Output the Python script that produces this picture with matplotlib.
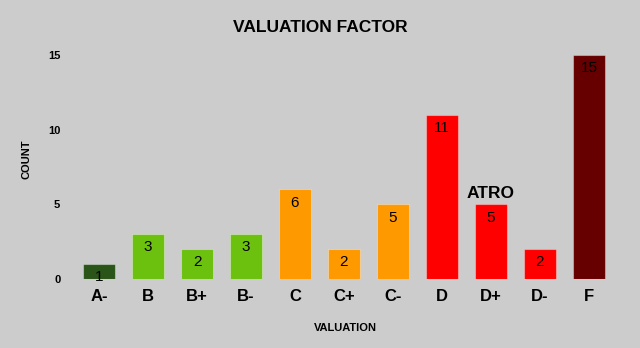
import matplotlib
matplotlib.use("Agg")
import matplotlib.pyplot as plt

# valuation grades and how many stocks fall in each
grades = ["A-", "B", "B+", "B-", "C", "C+", "C-", "D", "D+", "D-", "F"]
counts = [1, 3, 2, 3, 6, 2, 5, 11, 5, 2, 15]
colors = ["#2a5418", "#6cc00e", "#6cc00e", "#6cc00e", "#ff9900", "#ff9900",
          "#ff9900", "#ff0000", "#ff0000", "#ff0000", "#660000"]
yticks = [0, 5, 10, 15]
marked = "D+"
marked_label = "ATRO"

plt.rcParams["font.family"] = ["Liberation Sans", "DejaVu Sans"]

bg = "#cccccc"
fig = plt.figure(figsize=(6.4, 3.48), dpi=100, facecolor=bg)
ax = fig.add_axes([70 / 640, 69 / 348, 550 / 640, 239 / 348], facecolor=bg)

x = range(len(grades))
bars = ax.bar(x, counts, width=0.65, color=colors,
              edgecolor=(1, 1, 1, 0.35), linewidth=0.8)

# value labels just inside the top of each bar
for xi, v in zip(x, counts):
    ax.annotate(str(v), (xi, v), xytext=(0, -9.5), textcoords="offset points",
                ha="center", va="center", fontsize=11, color="black")

# ticker callout above its grade
mi = grades.index(marked)
ax.annotate(marked_label, (mi, counts[mi]), xytext=(0, 7.5), textcoords="offset points",
            ha="center", va="center", fontsize=12.5, fontweight="bold", color="black")

ax.set_xlim(-0.592, 10.633)
ax.set_ylim(0, 16)
ax.set_xticks(list(x))
ax.set_xticklabels(grades, fontsize=12, fontweight="bold")
ax.set_yticks(yticks)
ax.set_yticklabels([str(t) for t in yticks], fontsize=8, fontweight="bold")
ax.tick_params(axis="x", length=0, pad=7)
ax.tick_params(axis="y", length=0, pad=7)
for s in ax.spines.values():
    s.set_visible(False)

ax.set_xlabel("VALUATION", fontsize=8, fontweight="bold", labelpad=14)
ax.set_ylabel("COUNT", fontsize=8, fontweight="bold", labelpad=12)
fig.text(0.5, 1 - 27 / 348, "VALUATION FACTOR", ha="center", va="center",
         fontsize=12.5, fontweight="bold")

fig.savefig("out.png", dpi=100, facecolor=bg)
